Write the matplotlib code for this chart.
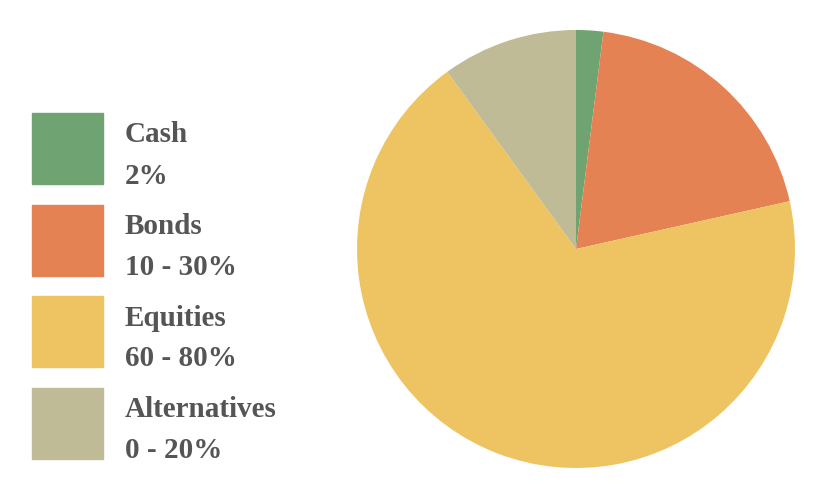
import matplotlib
matplotlib.use("Agg")
import matplotlib.pyplot as plt
from matplotlib.patches import Rectangle

categories = ["Cash", "Bonds", "Equities", "Alternatives"]
ranges = ["2%", "10 - 30%", "60 - 80%", "0 - 20%"]
values = [2, 19.5, 68.5, 10]
colors = ["#6fa372", "#e58254", "#eec462", "#bfbb96"]

W, H = 827, 502
fig = plt.figure(figsize=(W/100, H/100), dpi=100)
cx, cy, r = 576, 250, 219
ax = fig.add_axes([(cx-r)/W, (H-cy-r)/H, 2*r/W, 2*r/H])
ax.pie(values, colors=colors, startangle=90, counterclock=False,
       wedgeprops=dict(linewidth=0))
ax.set_xlim(-1, 1)
ax.set_ylim(-1, 1)
ax.set_aspect("equal")

font = dict(family="Liberation Serif", weight="bold", color="#555555", fontsize=21)
for i, (c, rg, col) in enumerate(zip(categories, ranges, colors)):
    top = 114 + i*91.5
    fig.patches.append(Rectangle((32/W, 1-(top+71)/H), 71/W, 71/H,
                                 transform=fig.transFigure, color=col))
    fig.text(125/W, 1-(top+21)/H, c, va="center", **font)
    fig.text(125/W, 1-(top+62)/H, rg, va="center", **font)

fig.savefig("out.png", dpi=100)
